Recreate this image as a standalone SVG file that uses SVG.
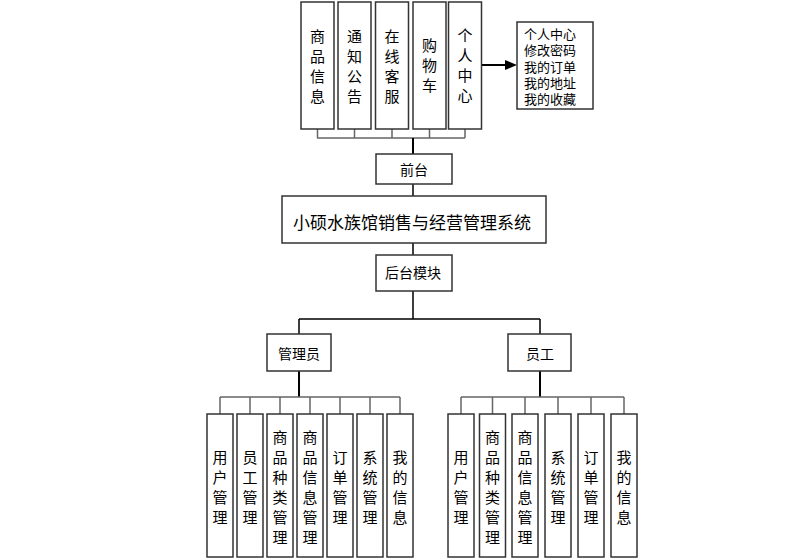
<svg xmlns="http://www.w3.org/2000/svg" width="810" height="560" viewBox="0 0 810 560">
<style>
.b{fill:#fff;stroke:#333;stroke-width:1.5}
.t{font-family:"Noto Sans CJK SC",sans-serif;font-size:15px;fill:#000;text-anchor:middle;dominant-baseline:central}
.s{font-size:14px}
.big{font-size:17px}
.i{font-family:"Noto Sans CJK SC",sans-serif;font-size:13px;fill:#000;dominant-baseline:central}
.g{stroke:#666;stroke-width:1.5;fill:none}
.k{stroke:#000;stroke-width:2;fill:none}
</style>
<rect width="810" height="560" fill="#fff"/>
<g id="connectors">
<path class="g" d="M317.5 129V138M354.5 129V138M392 129V138M429.5 129V138M465 129V138M317 138H465"/>
<path class="k" d="M413 138V154"/>
<path class="k" d="M413 184V196M413 243V255M413 291V319M299 319H540M299 319V334M540 319V334" style="stroke-width:1.5"/>
<path class="k" d="M299 371V397M540 371V397"/>
<path class="g" d="M220 397H400M220 397V414M250 397V414M280 397V414M310 397V414M340 397V414M370 397V414M400 397V414"/>
<path class="g" d="M461 397H624M461 397V414M492.5 397V414M525 397V414M558 397V414M591 397V414M624 397V414"/>
<path class="k" d="M482 65H506"/>
<polygon points="505,60 517,65 505,70" fill="#000"/>
</g>
<g id="n_spxx"><rect class="b" x="301" y="2" width="33" height="127"/><text class="t" x="317.5"><tspan x="317.5" y="35">商</tspan><tspan x="317.5" y="55">品</tspan><tspan x="317.5" y="75">信</tspan><tspan x="317.5" y="95">息</tspan></text></g>
<g id="n_tzgg"><rect class="b" x="338" y="2" width="33" height="127"/><text class="t"><tspan x="354.5" y="35">通</tspan><tspan x="354.5" y="55">知</tspan><tspan x="354.5" y="75">公</tspan><tspan x="354.5" y="95">告</tspan></text></g>
<g id="n_zxkf"><rect class="b" x="375.5" y="2" width="33" height="127"/><text class="t"><tspan x="392" y="35">在</tspan><tspan x="392" y="55">线</tspan><tspan x="392" y="75">客</tspan><tspan x="392" y="95">服</tspan></text></g>
<g id="n_gwc"><rect class="b" x="413" y="2" width="33" height="127"/><text class="t"><tspan x="429.5" y="44">购</tspan><tspan x="429.5" y="64">物</tspan><tspan x="429.5" y="84">车</tspan></text></g>
<g id="n_grzx"><rect class="b" x="448.5" y="2" width="33" height="127"/><text class="t"><tspan x="465" y="34">个</tspan><tspan x="465" y="54">人</tspan><tspan x="465" y="74">中</tspan><tspan x="465" y="94">心</tspan></text></g>
<g id="n_info"><rect class="b" x="517" y="22" width="76" height="87"/><text class="i"><tspan x="524" y="33">个人中心</tspan><tspan x="524" y="49">修改密码</tspan><tspan x="524" y="65.5">我的订单</tspan><tspan x="524" y="81.5">我的地址</tspan><tspan x="524" y="97.5">我的收藏</tspan></text></g>
<g id="n_qt"><rect class="b" x="376" y="154" width="76" height="30"/><text class="t s" x="414" y="169">前台</text></g>
<g id="n_main"><rect class="b" x="282" y="196" width="264" height="47"/><text class="t big" x="412" y="221">小硕水族馆销售与经营管理系统</text></g>
<g id="n_ht"><rect class="b" x="376" y="255" width="76" height="36"/><text class="t s" x="413" y="272">后台模块</text></g>
<g id="n_admin"><rect class="b" x="267" y="334" width="64" height="37"/><text class="t s" x="299" y="353">管理员</text></g>
<g id="n_staff"><rect class="b" x="508" y="334" width="63" height="37"/><text class="t s" x="540" y="353">员工</text></g>
<g id="a1"><rect class="b" x="207" y="414" width="26" height="143"/><text class="t"><tspan x="220" y="455.5">用</tspan><tspan x="220" y="475.5">户</tspan><tspan x="220" y="495.5">管</tspan><tspan x="220" y="515.5">理</tspan></text></g>
<g id="a2"><rect class="b" x="237" y="414" width="26" height="143"/><text class="t"><tspan x="250" y="455.5">员</tspan><tspan x="250" y="475.5">工</tspan><tspan x="250" y="495.5">管</tspan><tspan x="250" y="515.5">理</tspan></text></g>
<g id="a3"><rect class="b" x="267" y="414" width="26" height="143"/><text class="t"><tspan x="280" y="435.5">商</tspan><tspan x="280" y="455.5">品</tspan><tspan x="280" y="475.5">种</tspan><tspan x="280" y="495.5">类</tspan><tspan x="280" y="515.5">管</tspan><tspan x="280" y="535.5">理</tspan></text></g>
<g id="a4"><rect class="b" x="297" y="414" width="26" height="143"/><text class="t"><tspan x="310" y="435.5">商</tspan><tspan x="310" y="455.5">品</tspan><tspan x="310" y="475.5">信</tspan><tspan x="310" y="495.5">息</tspan><tspan x="310" y="515.5">管</tspan><tspan x="310" y="535.5">理</tspan></text></g>
<g id="a5"><rect class="b" x="327" y="414" width="26" height="143"/><text class="t"><tspan x="340" y="455.5">订</tspan><tspan x="340" y="475.5">单</tspan><tspan x="340" y="495.5">管</tspan><tspan x="340" y="515.5">理</tspan></text></g>
<g id="a6"><rect class="b" x="357" y="414" width="26" height="143"/><text class="t"><tspan x="370" y="455.5">系</tspan><tspan x="370" y="475.5">统</tspan><tspan x="370" y="495.5">管</tspan><tspan x="370" y="515.5">理</tspan></text></g>
<g id="a7"><rect class="b" x="387" y="414" width="26" height="143"/><text class="t"><tspan x="400" y="455.5">我</tspan><tspan x="400" y="475.5">的</tspan><tspan x="400" y="495.5">信</tspan><tspan x="400" y="515.5">息</tspan></text></g>
<g id="s1"><rect class="b" x="448" y="414" width="26" height="143"/><text class="t"><tspan x="461" y="455.5">用</tspan><tspan x="461" y="475.5">户</tspan><tspan x="461" y="495.5">管</tspan><tspan x="461" y="515.5">理</tspan></text></g>
<g id="s2"><rect class="b" x="479.5" y="414" width="26" height="143"/><text class="t"><tspan x="492.5" y="435.5">商</tspan><tspan x="492.5" y="455.5">品</tspan><tspan x="492.5" y="475.5">种</tspan><tspan x="492.5" y="495.5">类</tspan><tspan x="492.5" y="515.5">管</tspan><tspan x="492.5" y="535.5">理</tspan></text></g>
<g id="s3"><rect class="b" x="512" y="414" width="26" height="143"/><text class="t"><tspan x="525" y="435.5">商</tspan><tspan x="525" y="455.5">品</tspan><tspan x="525" y="475.5">信</tspan><tspan x="525" y="495.5">息</tspan><tspan x="525" y="515.5">管</tspan><tspan x="525" y="535.5">理</tspan></text></g>
<g id="s4"><rect class="b" x="545" y="414" width="26" height="143"/><text class="t"><tspan x="558" y="455.5">系</tspan><tspan x="558" y="475.5">统</tspan><tspan x="558" y="495.5">管</tspan><tspan x="558" y="515.5">理</tspan></text></g>
<g id="s5"><rect class="b" x="578" y="414" width="26" height="143"/><text class="t"><tspan x="591" y="455.5">订</tspan><tspan x="591" y="475.5">单</tspan><tspan x="591" y="495.5">管</tspan><tspan x="591" y="515.5">理</tspan></text></g>
<g id="s6"><rect class="b" x="611" y="414" width="26" height="143"/><text class="t"><tspan x="624" y="455.5">我</tspan><tspan x="624" y="475.5">的</tspan><tspan x="624" y="495.5">信</tspan><tspan x="624" y="515.5">息</tspan></text></g>
</svg>
